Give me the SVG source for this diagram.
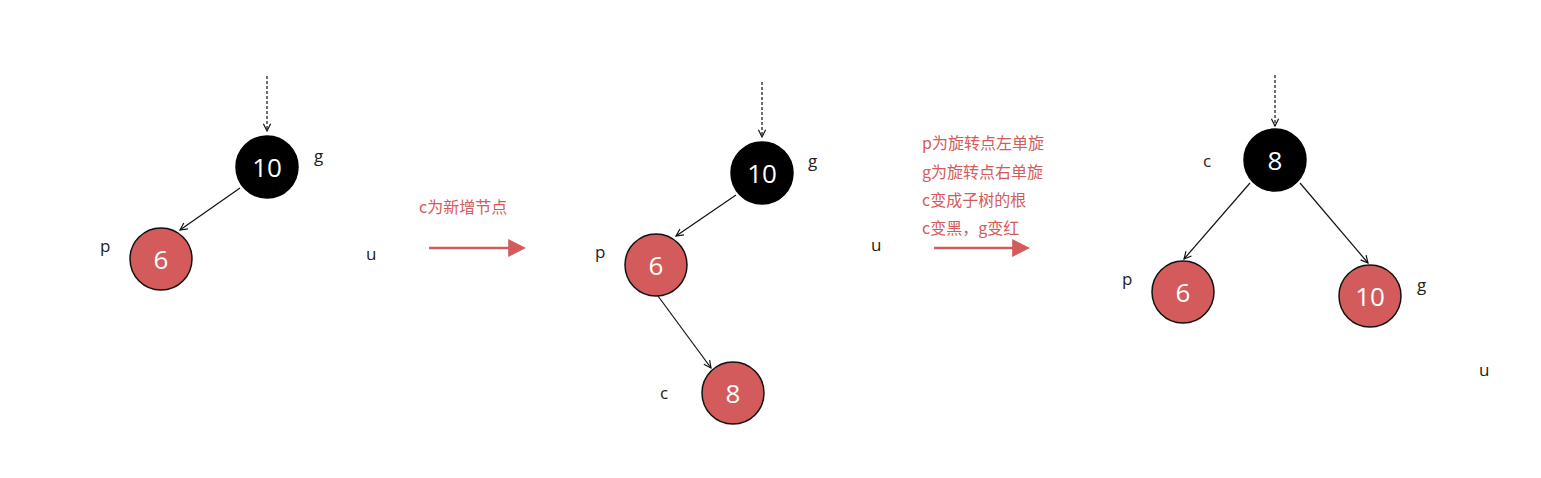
<svg xmlns="http://www.w3.org/2000/svg" width="1541" height="478" viewBox="0 0 1541 478">
<style>
.b{fill:#000;stroke:#000;stroke-width:1.5}
.r{fill:#d45b5b;stroke:#111;stroke-width:1.5}
.n{font-family:"Open Sans","Liberation Sans",sans-serif;font-size:26px;fill:#fff;text-anchor:middle;dominant-baseline:central}
.l{font-family:"Open Sans","Liberation Sans",sans-serif;font-size:17px;fill:#222}
.t{font-family:"Noto Sans CJK SC",sans-serif;font-size:16px;fill:#d45b5b}
.e{stroke:#111;stroke-width:1.2;fill:none;marker-end:url(#a)}
.d{stroke:#111;stroke-width:1.2;fill:none;stroke-dasharray:3,2;marker-end:url(#a)}
.big{stroke:#d45b5b;stroke-width:2.5;fill:none;marker-end:url(#ra)}
</style>
<defs>
<marker id="a" viewBox="0 0 10 10" refX="9" refY="5" markerWidth="9" markerHeight="9" orient="auto" markerUnits="userSpaceOnUse"><path d="M1,1 L9,5 L1,9" fill="none" stroke="#111" stroke-width="1.3"/></marker>
<marker id="ra" viewBox="0 0 10 10" refX="1" refY="5" markerWidth="18" markerHeight="18" orient="auto" markerUnits="userSpaceOnUse"><path d="M0,0 L10,5 L0,10 z" fill="#d45b5b"/></marker>
</defs>
<g id="connectors">
<path class="d" d="M267,76 V131"/>
<path class="e" d="M240,188 L180,230"/>
<path class="d" d="M762,82 V137"/>
<path class="e" d="M736,195 L676,236"/>
<path class="e" d="M658,296 L711,368"/>
<path class="d" d="M1275,75 V126"/>
<path class="e" d="M1250,183 L1184,259"/>
<path class="e" d="M1300,183 L1368,263"/>
<path class="big" d="M429,248 H510"/>
<path class="big" d="M934,248 H1014"/>
</g>
<g id="n1g"><circle class="b" cx="267" cy="167" r="31"/><text class="n" x="267" y="167">10</text></g>
<g id="n1p"><circle class="r" cx="161" cy="259" r="31"/><text class="n" x="161" y="259">6</text></g>
<g id="n2g"><circle class="b" cx="762" cy="173" r="31"/><text class="n" x="762" y="173">10</text></g>
<g id="n2p"><circle class="r" cx="656" cy="265" r="31"/><text class="n" x="656" y="265">6</text></g>
<g id="n2c"><circle class="r" cx="733" cy="393" r="31"/><text class="n" x="733" y="393">8</text></g>
<g id="n3c"><circle class="b" cx="1275" cy="160" r="31"/><text class="n" x="1275" y="160">8</text></g>
<g id="n3p"><circle class="r" cx="1183" cy="292" r="31"/><text class="n" x="1183" y="292">6</text></g>
<g id="n3g"><circle class="r" cx="1370" cy="296" r="31"/><text class="n" x="1370" y="296">10</text></g>
<g id="labels">
<text class="l" x="314" y="162">g</text>
<text class="l" x="100" y="252">p</text>
<text class="l" x="366" y="260">u</text>
<text class="l" x="808" y="167">g</text>
<text class="l" x="595" y="258">p</text>
<text class="l" x="871" y="251">u</text>
<text class="l" x="660" y="399">c</text>
<text class="l" x="1203" y="167">c</text>
<text class="l" x="1122" y="285">p</text>
<text class="l" x="1417" y="291">g</text>
<text class="l" x="1479" y="376">u</text>
<text class="t" x="419" y="213">c为新增节点</text>
<text class="t" x="922" y="149">p为旋转点左单旋</text>
<text class="t" x="922" y="178">g为旋转点右单旋</text>
<text class="t" x="922" y="206">c变成子树的根</text>
<text class="t" x="922" y="234">c变黑，g变红</text>
</g>
</svg>
